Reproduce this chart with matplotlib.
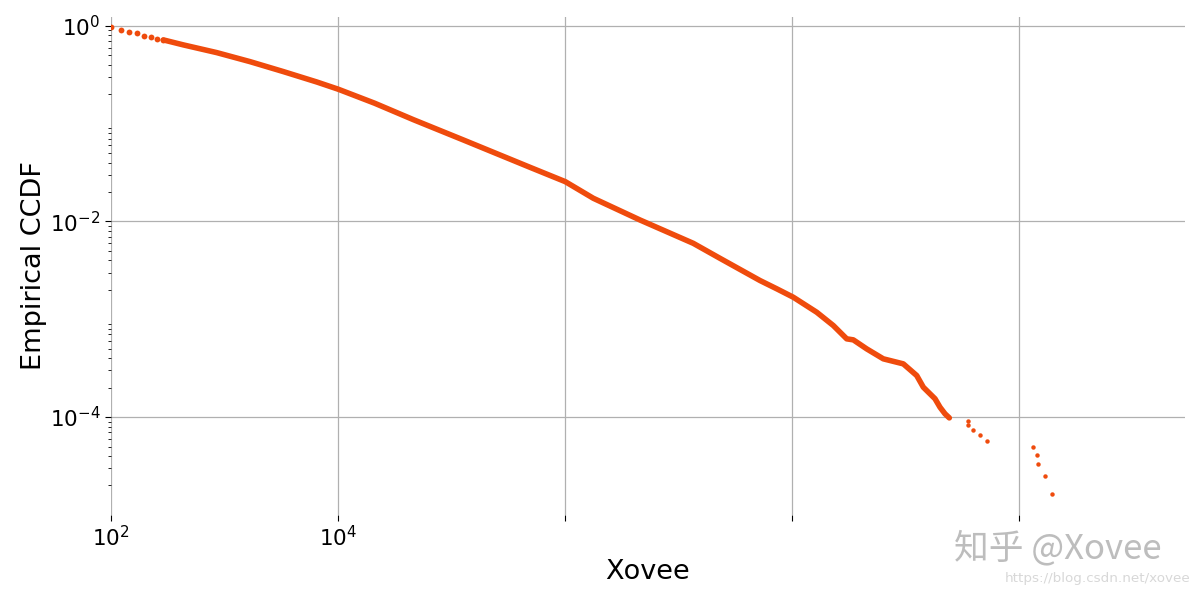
import matplotlib
matplotlib.use("Agg")
import matplotlib.pyplot as plt
import numpy as np

# values (x = Xovee, y = empirical CCDF)
head_x = [101, 122, 145, 170, 197, 227, 256, 289]
head_y = [0.970, 0.917, 0.874, 0.848, 0.796, 0.772, 0.741, 0.719]

body_x = [289, 434, 854, 1677, 3296, 6493, 1.006e4, 2.1e4, 4.606e4, 1.27e5, 4.915e5,
          1.006e6, 1.776e6, 4.575e6, 1.349e7, 2.32e7, 5.224e7, 7.333e7, 1.027e8,
          1.651e8, 2.312e8, 3.033e8, 3.468e8, 4.552e8, 6.375e8, 9.563e8,
          1.255e9, 1.435e9, 1.819e9, 2.014e9, 2.228e9, 2.432e9]
body_y = [0.719, 0.639, 0.533, 0.431, 0.341, 0.267, 0.225, 0.162, 0.110, 0.0682, 0.0358,
          0.02554, 0.01727, 0.01036, 0.00598, 0.0042, 0.00249, 0.00205, 0.00168,
          0.00118, 0.000863, 0.000631, 0.000616, 0.000498, 0.000394, 0.00035,
          0.000266, 0.000202, 0.000154, 0.000126, 0.000108, 9.81e-5]

tail_x = [3.575e9, 3.575e9, 3.909e9, 4.533e9, 5.256e9,
          1.337e10, 1.45e10, 1.479e10, 1.705e10, 1.966e10]
tail_y = [9.21e-5, 8.32e-5, 7.39e-5, 6.57e-5, 5.71e-5,
          4.99e-5, 4.13e-5, 3.32e-5, 2.5e-5, 1.64e-5]

xticks = [1e2, 1e4, 1e6, 1e8, 1e10]
xtick_labels = ["$10^{2}$", "$10^{4}$", "", "", ""]

color = "#ef4b0d"

fig = plt.figure(figsize=(12, 5.98), dpi=100)
ax = fig.add_axes([0.0925, 0.139, 0.895, 0.833])

ax.plot(body_x, body_y, color=color, lw=4.0, solid_capstyle="round",
        solid_joinstyle="round", zorder=3)
ax.plot(head_x, head_y, "o", color=color, ms=4.2, mew=0, zorder=3)
ax.plot(tail_x, tail_y, "o", color=color, ms=3.2, mew=0, zorder=3)

ax.set_xscale("log")
ax.set_yscale("log")
ax.set_xlim(1e2, 2.9e11)
ax.set_ylim(1e-5, 1.24)

ax.set_xticks(xticks)
ax.set_xticklabels(xtick_labels)
ax.xaxis.set_minor_locator(matplotlib.ticker.NullLocator())
ax.set_yticks([1e0, 1e-2, 1e-4])
ax.set_yticklabels(["$10^{0}$", "$10^{-2}$", "$10^{-4}$"])

ax.tick_params(axis="both", which="major", labelsize=15.5, length=4)
ax.tick_params(axis="y", which="minor", length=2.5)
ax.grid(True, which="major", color="#b0b0b0", lw=0.9)
ax.set_axisbelow(True)
for s in ax.spines.values():
    s.set_visible(False)

ax.set_xlabel("Xovee", fontsize=19.5, labelpad=6)
ax.set_ylabel("Empirical CCDF", fontsize=19.5, labelpad=2)

# watermarks
fig.text(0.795, 0.083, "知乎 @Xovee", fontsize=25, color="#bdbdbd",
         family=["Noto Sans CJK SC", "DejaVu Sans"], va="center")
fig.text(0.992, 0.032, "https://blog.csdn.net/xovee", fontsize=9.7,
         color="#d8d8d8", ha="right", va="center")

fig.savefig("out.png", dpi=100)
